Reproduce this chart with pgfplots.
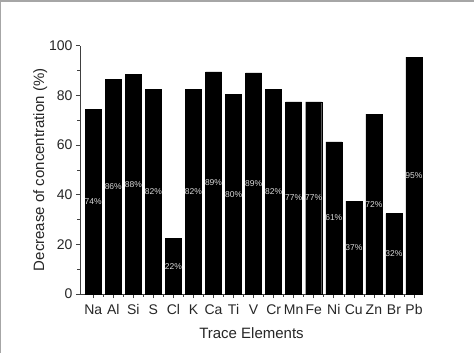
\documentclass[border=0pt]{standalone}
\usepackage{pgfplots}
\pgfplotsset{compat=1.18}
\usepackage{fontspec}
\setmainfont{Liberation Sans}
\begin{document}
\begin{tikzpicture}
\path[use as bounding box] (-80pt,-62pt) rectangle (394pt,294pt);
\fill[gray!70] (-80pt,292pt) rectangle (394pt,294pt);
\fill[gray!70] (-80pt,-59pt) rectangle (-78.5pt,294pt);
\begin{axis}[
  at={(0pt,0pt)}, anchor=south west,
  scale only axis, width=343pt, height=248.3pt,
  xmin=-0.66, xmax=16.45, ymin=0, ymax=100,
  axis x line*=bottom, axis y line*=left,
  axis line style={draw=black!75, line width=0.7pt},
  ybar, bar width=16pt,
  xtick=data,
  xticklabels={Na,Al,Si,S,Cl,K,Ca,Ti,V,Cr,Mn,Fe,Ni,Cu,Zn,Br,Pb},
  minor x tick num=1,
  ytick={0,20,40,60,80,100}, minor y tick num=1,
  tick align=outside,
  major tick length=4pt, minor tick length=2.5pt,
  tick style={draw=black!75, line width=0.6pt},
  /pgf/number format/assume math mode=true,
  tick label style={font=\fontsize{14}{16}\selectfont, text=black!85},
  xticklabel style={yshift=-3pt},
  label style={font=\fontsize{15}{17}\selectfont, text=black!85},
  xlabel={Trace Elements},
  ylabel={Decrease of concentration (\%)},
  xlabel style={yshift=-6pt},
  ylabel style={yshift=-5pt},
  clip=false,
]
\addplot[fill=black, draw=black, line width=0.4pt,
  point meta=explicit,
  visualization depends on={rawy/2 \as \halfy},
  nodes near coords={\pgfmathprintnumber[fixed,precision=0]{\pgfplotspointmeta}\%},
  every node near coord/.append style={font=\fontsize{8.5}{9}\selectfont, text=white!85!black, inner sep=0pt, anchor=center,
    shift={(axis direction cs:0,-\halfy)}},
  nodes near coords align={center},
] table[x=x, y=y, meta=m] {
x y m
0 74.5 74
1 86.4 86
2 88.5 88
3 82.5 82
4 22.5 22
5 82.5 82
6 89.5 89
7 80.4 80
8 89.1 89
9 82.5 82
10 77.4 77
11 77.4 77
12 61.3 61
13 37.4 37
14 72.4 72
15 32.4 32
16 95.4 95
};
\end{axis}
\end{tikzpicture}
\end{document}
